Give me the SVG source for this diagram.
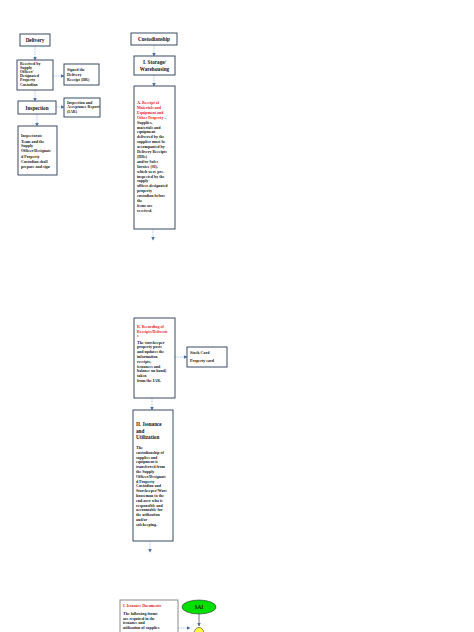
<svg xmlns="http://www.w3.org/2000/svg" width="474" height="632" viewBox="0 0 474 632">
<style>
.bx{fill:#fff;stroke:#3b4a66;stroke-width:1}
.bx2{fill:#fff;stroke:#8a8a8a;stroke-width:1}
.t{font-family:"Liberation Serif",serif;font-weight:bold;font-size:4px;fill:#222}
.r{fill:#e8202a}
.h{font-family:"Liberation Serif",serif;font-weight:bold;font-size:5.2px;fill:#111}
.hc{text-anchor:middle}
.c{fill:none;stroke:#8db3e2;stroke-width:0.7;stroke-dasharray:1.5 1}
</style>
<defs>
<marker id="a" markerWidth="4" markerHeight="4" refX="3.5" refY="2" orient="auto" markerUnits="userSpaceOnUse">
<path d="M0,0 L4,2 L0,4 z" fill="#4a6fa5"/>
</marker>
</defs>
<rect width="474" height="632" fill="#fff"/>

<g id="connectors">
<line class="c" x1="35" y1="46" x2="35" y2="60" marker-end="url(#a)"/>
<line class="c" x1="53" y1="76" x2="64" y2="76" marker-end="url(#a)"/>
<line class="c" x1="35" y1="90" x2="35" y2="101" marker-end="url(#a)"/>
<line class="c" x1="56" y1="107" x2="64" y2="107" marker-end="url(#a)"/>
<line class="c" x1="37" y1="114" x2="37" y2="126" marker-end="url(#a)"/>
<line class="c" x1="154" y1="45" x2="154" y2="56" marker-end="url(#a)"/>
<line class="c" x1="154" y1="75" x2="154" y2="86" marker-end="url(#a)"/>
<line class="c" x1="153" y1="229" x2="153" y2="240" marker-end="url(#a)"/>
<line class="c" x1="175" y1="357" x2="187" y2="357" marker-end="url(#a)"/>
<line class="c" x1="152" y1="398" x2="152" y2="410" marker-end="url(#a)"/>
<line class="c" x1="150" y1="541" x2="150" y2="552" marker-end="url(#a)"/>
<line class="c" x1="178" y1="628" x2="190" y2="628" marker-end="url(#a)"/>
<line x1="199" y1="614" x2="199" y2="626" stroke="#222" stroke-width="0.6" marker-end="url(#a)"/>
</g>

<g id="delivery">
<rect class="bx" x="20" y="34" width="30" height="12"/>
<text class="h hc" x="35" y="42" font-size="4.8">Delivery</text>
</g>

<g id="received">
<rect class="bx" x="17" y="60" width="36" height="30"/>
<text class="t"><tspan x="20" y="65">Received by</tspan><tspan x="20" y="69">Supply</tspan><tspan x="20" y="73">Officer/</tspan><tspan x="20" y="77">Designated</tspan><tspan x="20" y="81">Property</tspan><tspan x="20" y="85.5">Custodian</tspan></text>
</g>

<g id="signed-dr">
<rect class="bx" x="64" y="64" width="35" height="21"/>
<text class="t"><tspan x="67" y="70.5">Signed the</tspan><tspan x="67" y="75.5">Delivery</tspan><tspan x="67" y="80.5">Receipt (DR)</tspan></text>
</g>

<g id="inspection">
<rect class="bx" x="18" y="101" width="38" height="13"/>
<text class="h hc" x="37" y="109.5" font-size="5.6">Inspection</text>
</g>

<g id="iar">
<rect class="bx" x="64" y="98" width="36" height="19"/>
<text class="t"><tspan x="67" y="104">Inspection and</tspan><tspan x="67" y="108">Acceptance Report</tspan><tspan x="67" y="112.5">(IAR)</tspan></text>
</g>

<g id="inspectorate">
<rect class="bx" x="18" y="126" width="39" height="49"/>
<text class="t"><tspan x="21" y="137">Inspectorate</tspan><tspan x="21" y="142.5">Team and the</tspan><tspan x="21" y="147">Supply</tspan><tspan x="21" y="152">Officer/Designate</tspan><tspan x="21" y="157.5">d Property</tspan><tspan x="21" y="162.5">Custodian shall</tspan><tspan x="21" y="168">prepare and sign</tspan></text>
</g>

<g id="custodianship">
<rect class="bx" x="131" y="33" width="46" height="12"/>
<text class="h hc" x="154" y="41" font-size="4.8">Custodianship</text>
</g>

<g id="storage">
<rect class="bx" x="134" y="56" width="41" height="19"/>
<text class="h hc" font-size="5.4"><tspan x="154.5" y="64">I. Storage/</tspan><tspan x="154.5" y="70.5">Warehousing</tspan></text>
</g>

<g id="receipt">
<rect class="bx" x="134" y="86" width="41" height="143"/>
<text class="t"><tspan x="137" y="104">A. <tspan class="r">Receipt of</tspan></tspan><tspan x="137" y="108.9" class="r">Materials and</tspan><tspan x="137" y="113.8" class="r">Equipment and</tspan><tspan x="137" y="118.7"><tspan class="r">Other Property</tspan> –</tspan><tspan x="137" y="123.6">Supplies,</tspan><tspan x="137" y="128.5">materials and</tspan><tspan x="137" y="133.4">equipment</tspan><tspan x="137" y="138.3">delivered by the</tspan><tspan x="137" y="143.2">supplier must be</tspan><tspan x="137" y="148.1">accompanied by</tspan><tspan x="137" y="153">Delivery Receipts</tspan><tspan x="137" y="157.9">(DRs)</tspan><tspan x="137" y="162.8">and/or Sales</tspan><tspan x="137" y="167.7">Invoice (SI),</tspan><tspan x="137" y="172.6">which were pre-</tspan><tspan x="137" y="177.5">inspected by the</tspan><tspan x="137" y="182.4">supply</tspan><tspan x="137" y="187.3">officer-designated</tspan><tspan x="137" y="192.2">property</tspan><tspan x="137" y="197.1">custodian before</tspan><tspan x="137" y="202">the</tspan><tspan x="137" y="206.9">items are</tspan><tspan x="137" y="211.8">received.</tspan></text>
</g>

<g id="recording">
<rect class="bx" x="134" y="318" width="41" height="80"/>
<text class="t"><tspan x="137" y="328" class="r">B. Recording of</tspan><tspan x="137" y="332.7" class="r">Receipts/Deliverie</tspan><tspan x="137" y="337.4" class="r">s</tspan><tspan x="137" y="343.5">The storekeeper</tspan><tspan x="137" y="348.3">property posts</tspan><tspan x="137" y="353.1">and updates the</tspan><tspan x="137" y="357.9">information</tspan><tspan x="137" y="362.7">receipts,</tspan><tspan x="137" y="367.5">issuances and</tspan><tspan x="137" y="372.3">balance on hand)</tspan><tspan x="137" y="377.1">taken</tspan><tspan x="137" y="381.9">from the IAR.</tspan></text>
</g>

<g id="stock-card">
<rect class="bx" x="187" y="347" width="40" height="20"/>
<text class="t"><tspan x="190" y="354">Stock Card</tspan><tspan x="190" y="362">Property card</tspan></text>
</g>

<g id="issuance">
<rect class="bx" x="133" y="410" width="40" height="131"/>
<text class="h" font-size="5.6"><tspan x="136" y="426">II. Issuance</tspan><tspan x="136" y="432.5">and</tspan><tspan x="136" y="439">Utilization</tspan></text>
<text class="t"><tspan x="136" y="449">The</tspan><tspan x="136" y="453.8">custodianship of</tspan><tspan x="136" y="458.6">supplies and</tspan><tspan x="136" y="463.4">equipment is</tspan><tspan x="136" y="468.2">transferred from</tspan><tspan x="136" y="473">the Supply</tspan><tspan x="136" y="477.8">Officer/Designate</tspan><tspan x="136" y="482.6">d Property</tspan><tspan x="136" y="487.4">Custodian and</tspan><tspan x="136" y="492.2">Storekeeper/Ware</tspan><tspan x="136" y="497">houseman to the</tspan><tspan x="136" y="501.8">end-user who is</tspan><tspan x="136" y="506.6">responsible and</tspan><tspan x="136" y="511.4">accountable for</tspan><tspan x="136" y="516.2">the utilization</tspan><tspan x="136" y="521">and/or</tspan><tspan x="136" y="525.8">safekeeping.</tspan></text>
</g>

<g id="issuance-docs">
<rect class="bx2" x="120" y="600" width="58" height="40"/>
<text class="t"><tspan x="123" y="607" class="r">I. Issuance Documents</tspan><tspan x="123" y="615">The following forms</tspan><tspan x="123" y="619.5">are required in the</tspan><tspan x="123" y="624">issuance and</tspan><tspan x="123" y="628.5">utilization of supplies</tspan></text>
</g>

<g id="sai">
<ellipse cx="199" cy="607" rx="17" ry="7" fill="#00e000" stroke="#333" stroke-width="0.6"/>
<text class="h hc" x="199" y="609" font-size="5">SAI</text>
</g>

<g id="decision">
<circle cx="199" cy="632" r="4.5" fill="#ffff40" stroke="#333" stroke-width="0.6"/>
</g>
</svg>
